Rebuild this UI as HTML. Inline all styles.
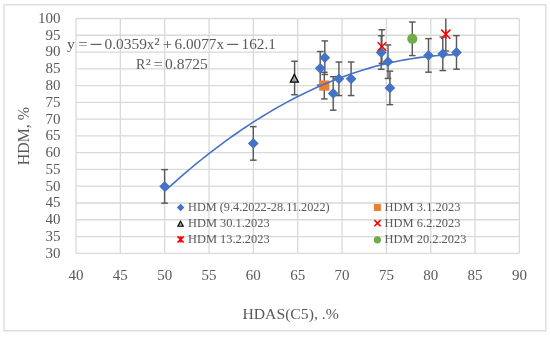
<!DOCTYPE html><html><head><meta charset="utf-8"><style>html,body{margin:0;padding:0;background:#fff;}svg{display:block}text{font-family:'Liberation Serif', 'DejaVu Serif', serif;fill:#595959}</style></head><body>
<svg width="550" height="337" viewBox="0 0 550 337">
<rect x="0" y="0" width="550" height="337" fill="#fff"/>
<rect x="4.0" y="4.8" width="541.9" height="326.0" fill="none" stroke="#D9D9D9" stroke-width="1.3"/>
<g stroke="#D9D9D9" stroke-width="1.3"><line x1="76.00" y1="18.50" x2="76.00" y2="253.30"/><line x1="120.34" y1="18.50" x2="120.34" y2="253.30"/><line x1="164.68" y1="18.50" x2="164.68" y2="253.30"/><line x1="209.02" y1="18.50" x2="209.02" y2="253.30"/><line x1="253.36" y1="18.50" x2="253.36" y2="253.30"/><line x1="297.70" y1="18.50" x2="297.70" y2="253.30"/><line x1="342.04" y1="18.50" x2="342.04" y2="253.30"/><line x1="386.38" y1="18.50" x2="386.38" y2="253.30"/><line x1="430.72" y1="18.50" x2="430.72" y2="253.30"/><line x1="475.06" y1="18.50" x2="475.06" y2="253.30"/><line x1="519.40" y1="18.50" x2="519.40" y2="253.30"/><line x1="76.00" y1="18.50" x2="519.40" y2="18.50"/><line x1="76.00" y1="35.27" x2="519.40" y2="35.27"/><line x1="76.00" y1="52.04" x2="519.40" y2="52.04"/><line x1="76.00" y1="68.81" x2="519.40" y2="68.81"/><line x1="76.00" y1="85.59" x2="519.40" y2="85.59"/><line x1="76.00" y1="102.36" x2="519.40" y2="102.36"/><line x1="76.00" y1="119.13" x2="519.40" y2="119.13"/><line x1="76.00" y1="135.90" x2="519.40" y2="135.90"/><line x1="76.00" y1="152.67" x2="519.40" y2="152.67"/><line x1="76.00" y1="169.44" x2="519.40" y2="169.44"/><line x1="76.00" y1="186.21" x2="519.40" y2="186.21"/><line x1="76.00" y1="202.99" x2="519.40" y2="202.99"/><line x1="76.00" y1="219.76" x2="519.40" y2="219.76"/><line x1="76.00" y1="236.53" x2="519.40" y2="236.53"/><line x1="76.00" y1="253.30" x2="519.40" y2="253.30"/></g>
<text x="60.4" y="22.90" font-size="15" text-anchor="end">100</text>
<text x="60.4" y="39.67" font-size="15" text-anchor="end">95</text>
<text x="60.4" y="56.44" font-size="15" text-anchor="end">90</text>
<text x="60.4" y="73.21" font-size="15" text-anchor="end">85</text>
<text x="60.4" y="89.99" font-size="15" text-anchor="end">80</text>
<text x="60.4" y="106.76" font-size="15" text-anchor="end">75</text>
<text x="60.4" y="123.53" font-size="15" text-anchor="end">70</text>
<text x="60.4" y="140.30" font-size="15" text-anchor="end">65</text>
<text x="60.4" y="157.07" font-size="15" text-anchor="end">60</text>
<text x="60.4" y="173.84" font-size="15" text-anchor="end">55</text>
<text x="60.4" y="190.61" font-size="15" text-anchor="end">50</text>
<text x="60.4" y="207.39" font-size="15" text-anchor="end">45</text>
<text x="60.4" y="224.16" font-size="15" text-anchor="end">40</text>
<text x="60.4" y="240.93" font-size="15" text-anchor="end">35</text>
<text x="60.4" y="257.70" font-size="15" text-anchor="end">30</text>
<text x="76.00" y="279.8" font-size="15" text-anchor="middle">40</text>
<text x="120.34" y="279.8" font-size="15" text-anchor="middle">45</text>
<text x="164.68" y="279.8" font-size="15" text-anchor="middle">50</text>
<text x="209.02" y="279.8" font-size="15" text-anchor="middle">55</text>
<text x="253.36" y="279.8" font-size="15" text-anchor="middle">60</text>
<text x="297.70" y="279.8" font-size="15" text-anchor="middle">65</text>
<text x="342.04" y="279.8" font-size="15" text-anchor="middle">70</text>
<text x="386.38" y="279.8" font-size="15" text-anchor="middle">75</text>
<text x="430.72" y="279.8" font-size="15" text-anchor="middle">80</text>
<text x="475.06" y="279.8" font-size="15" text-anchor="middle">85</text>
<text x="519.40" y="279.8" font-size="15" text-anchor="middle">90</text>
<text x="242.45" y="318.6" font-size="15.3" textLength="96.29" lengthAdjust="spacingAndGlyphs">HDAS(C5), .%</text>
<text transform="translate(28.9,164.8) rotate(-90)" x="-0.46" y="0" font-size="15.8" textLength="58.20" lengthAdjust="spacingAndGlyphs">HDM, %</text>
<g stroke="#595959" stroke-width="1.45" fill="none"><line x1="164.60" y1="169.63" x2="164.60" y2="203.17"/><line x1="161.30" y1="169.63" x2="167.90" y2="169.63"/><line x1="161.30" y1="203.17" x2="167.90" y2="203.17"/><line x1="253.30" y1="126.63" x2="253.30" y2="160.17"/><line x1="250.00" y1="126.63" x2="256.60" y2="126.63"/><line x1="250.00" y1="160.17" x2="256.60" y2="160.17"/><line x1="320.20" y1="51.53" x2="320.20" y2="85.07"/><line x1="316.90" y1="51.53" x2="323.50" y2="51.53"/><line x1="316.90" y1="85.07" x2="323.50" y2="85.07"/><line x1="324.80" y1="40.93" x2="324.80" y2="74.47"/><line x1="321.50" y1="40.93" x2="328.10" y2="40.93"/><line x1="321.50" y1="74.47" x2="328.10" y2="74.47"/><line x1="333.20" y1="76.63" x2="333.20" y2="110.17"/><line x1="329.90" y1="76.63" x2="336.50" y2="76.63"/><line x1="329.90" y1="110.17" x2="336.50" y2="110.17"/><line x1="338.90" y1="62.03" x2="338.90" y2="95.57"/><line x1="335.60" y1="62.03" x2="342.20" y2="62.03"/><line x1="335.60" y1="95.57" x2="342.20" y2="95.57"/><line x1="351.10" y1="62.03" x2="351.10" y2="95.57"/><line x1="347.80" y1="62.03" x2="354.40" y2="62.03"/><line x1="347.80" y1="95.57" x2="354.40" y2="95.57"/><line x1="381.20" y1="35.73" x2="381.20" y2="69.27"/><line x1="377.90" y1="35.73" x2="384.50" y2="35.73"/><line x1="377.90" y1="69.27" x2="384.50" y2="69.27"/><line x1="388.00" y1="44.93" x2="388.00" y2="78.47"/><line x1="384.70" y1="44.93" x2="391.30" y2="44.93"/><line x1="384.70" y1="78.47" x2="391.30" y2="78.47"/><line x1="389.90" y1="71.13" x2="389.90" y2="104.67"/><line x1="386.60" y1="71.13" x2="393.20" y2="71.13"/><line x1="386.60" y1="104.67" x2="393.20" y2="104.67"/><line x1="428.50" y1="38.63" x2="428.50" y2="72.17"/><line x1="425.20" y1="38.63" x2="431.80" y2="38.63"/><line x1="425.20" y1="72.17" x2="431.80" y2="72.17"/><line x1="442.80" y1="37.03" x2="442.80" y2="70.57"/><line x1="439.50" y1="37.03" x2="446.10" y2="37.03"/><line x1="439.50" y1="70.57" x2="446.10" y2="70.57"/><line x1="456.50" y1="35.63" x2="456.50" y2="69.17"/><line x1="453.20" y1="35.63" x2="459.80" y2="35.63"/><line x1="453.20" y1="69.17" x2="459.80" y2="69.17"/><line x1="324.30" y1="72.30" x2="324.30" y2="98.90"/><line x1="321.00" y1="72.30" x2="327.60" y2="72.30"/><line x1="321.00" y1="98.90" x2="327.60" y2="98.90"/><line x1="294.60" y1="61.23" x2="294.60" y2="94.77"/><line x1="291.30" y1="61.23" x2="297.90" y2="61.23"/><line x1="291.30" y1="94.77" x2="297.90" y2="94.77"/><line x1="381.90" y1="29.73" x2="381.90" y2="63.27"/><line x1="378.60" y1="29.73" x2="385.20" y2="29.73"/><line x1="378.60" y1="63.27" x2="385.20" y2="63.27"/><line x1="445.80" y1="18.50" x2="445.80" y2="50.97"/><line x1="442.50" y1="50.97" x2="449.10" y2="50.97"/><line x1="412.30" y1="22.03" x2="412.30" y2="55.57"/><line x1="409.00" y1="22.03" x2="415.60" y2="22.03"/><line x1="409.00" y1="55.57" x2="415.60" y2="55.57"/></g>
<path d="M164.60 181.00L170.00 186.40L164.60 191.80L159.20 186.40Z" fill="#4472C4"/><path d="M253.30 138.00L258.70 143.40L253.30 148.80L247.90 143.40Z" fill="#4472C4"/><path d="M320.20 62.90L325.60 68.30L320.20 73.70L314.80 68.30Z" fill="#4472C4"/><path d="M324.80 52.30L330.20 57.70L324.80 63.10L319.40 57.70Z" fill="#4472C4"/><path d="M333.20 88.00L338.60 93.40L333.20 98.80L327.80 93.40Z" fill="#4472C4"/><path d="M338.90 73.40L344.30 78.80L338.90 84.20L333.50 78.80Z" fill="#4472C4"/><path d="M351.10 73.40L356.50 78.80L351.10 84.20L345.70 78.80Z" fill="#4472C4"/><path d="M381.20 47.10L386.60 52.50L381.20 57.90L375.80 52.50Z" fill="#4472C4"/><path d="M388.00 56.30L393.40 61.70L388.00 67.10L382.60 61.70Z" fill="#4472C4"/><path d="M389.90 82.50L395.30 87.90L389.90 93.30L384.50 87.90Z" fill="#4472C4"/><path d="M428.50 50.00L433.90 55.40L428.50 60.80L423.10 55.40Z" fill="#4472C4"/><path d="M442.80 48.40L448.20 53.80L442.80 59.20L437.40 53.80Z" fill="#4472C4"/><path d="M456.50 47.00L461.90 52.40L456.50 57.80L451.10 52.40Z" fill="#4472C4"/>
<rect x="319.20" y="80.50" width="10.20" height="10.20" fill="#ED7D31"/>
<path d="M294.35 73.05L289.30 82.85L299.40 82.85Z" fill="#000"/><path d="M294.35 75.78L291.35 81.60L297.35 81.60Z" fill="#A5A5A5"/>
<path d="M377.60 42.20L386.20 50.80M386.20 42.20L377.60 50.80" stroke="#FF0000" stroke-width="1.5" fill="none"/>
<path d="M441.20 29.60L450.40 38.80M450.40 29.60L441.20 38.80M445.80 29.60L445.80 38.80" stroke="#FF0000" stroke-width="1.5" fill="none"/>
<circle cx="412.30" cy="38.80" r="5.10" fill="#70AD47"/>
<polyline points="164.68,191.13 168.33,187.81 171.99,184.53 175.64,181.29 179.30,178.09 182.95,174.93 186.61,171.81 190.26,168.74 193.92,165.70 197.57,162.71 201.23,159.75 204.88,156.84 208.54,153.97 212.19,151.14 215.85,148.35 219.50,145.60 223.16,142.89 226.81,140.22 230.47,137.60 234.12,135.01 237.77,132.47 241.43,129.96 245.08,127.50 248.74,125.08 252.39,122.70 256.05,120.36 259.70,118.06 263.36,115.80 267.01,113.58 270.67,111.41 274.32,109.27 277.98,107.18 281.63,105.12 285.29,103.11 288.94,101.14 292.60,99.21 296.25,97.32 299.90,95.47 303.56,93.66 307.21,91.89 310.87,90.17 314.52,88.48 318.18,86.83 321.83,85.23 325.49,83.67 329.14,82.15 332.80,80.67 336.45,79.23 340.11,77.83 343.76,76.47 347.42,75.15 351.07,73.87 354.73,72.64 358.38,71.44 362.04,70.29 365.69,69.18 369.34,68.11 373.00,67.07 376.65,66.08 380.31,65.14 383.96,64.23 387.62,63.36 391.27,62.53 394.93,61.75 398.58,61.00 402.24,60.30 405.89,59.64 409.55,59.01 413.20,58.43 416.86,57.89 420.51,57.39 424.17,56.94 427.82,56.52 431.47,56.14 435.13,55.81 438.78,55.51 442.44,55.26 446.09,55.04 449.75,54.87 453.40,54.74 457.06,54.65" fill="none" stroke="#4472C4" stroke-width="1.6" stroke-linejoin="round"/>
<text x="67.11" y="49.00" font-size="15.00" textLength="7.85" lengthAdjust="spacingAndGlyphs">y</text>
<text x="78.27" y="49.00" font-size="15.00" textLength="9.45" lengthAdjust="spacingAndGlyphs">=</text>
<text x="89.53" y="52.10" font-size="23.00" textLength="13.21" lengthAdjust="spacingAndGlyphs">−</text>
<text x="104.51" y="49.00" font-size="15.00" textLength="42.52" lengthAdjust="spacingAndGlyphs">0.0359</text>
<text x="146.98" y="49.00" font-size="15.00" textLength="6.99" lengthAdjust="spacingAndGlyphs">x</text>
<text x="154.20" y="48.70" font-size="16.00" textLength="5.41" lengthAdjust="spacingAndGlyphs">²</text>
<text x="162.68" y="49.00" font-size="15.00" textLength="9.33" lengthAdjust="spacingAndGlyphs">+</text>
<text x="174.55" y="49.00" font-size="15.00" textLength="41.89" lengthAdjust="spacingAndGlyphs">6.0077</text>
<text x="216.67" y="49.00" font-size="15.00" textLength="7.20" lengthAdjust="spacingAndGlyphs">x</text>
<text x="226.12" y="52.10" font-size="23.00" textLength="13.33" lengthAdjust="spacingAndGlyphs">−</text>
<text x="241.56" y="49.00" font-size="15.00" textLength="34.25" lengthAdjust="spacingAndGlyphs">162.1</text>
<text x="136.10" y="69.20" font-size="15.30" textLength="9.32" lengthAdjust="spacingAndGlyphs">R</text>
<text x="145.84" y="68.60" font-size="15.00" textLength="5.04" lengthAdjust="spacingAndGlyphs">²</text>
<text x="153.48" y="69.20" font-size="15.00" textLength="9.33" lengthAdjust="spacingAndGlyphs">=</text>
<text x="165.01" y="69.20" font-size="15.00" textLength="42.70" lengthAdjust="spacingAndGlyphs">0.8725</text>
<path d="M180.60 203.70L184.40 207.50L180.60 211.30L176.80 207.50Z" fill="#4472C4"/>
<text x="188.05" y="210.80" font-size="12.30" textLength="141.59" lengthAdjust="spacingAndGlyphs">HDM (9.4.2022-28.11.2022)</text>
<path d="M180.55 219.90L176.90 226.80L184.20 226.80Z" fill="#000"/><path d="M180.55 222.36L178.81 225.65L182.29 225.65Z" fill="#A5A5A5"/>
<text x="188.04" y="226.90" font-size="12.30" textLength="81.64" lengthAdjust="spacingAndGlyphs">HDM 30.1.2023</text>
<path d="M177.50 236.30L183.70 242.50M183.70 236.30L177.50 242.50M180.60 236.30L180.60 242.50" stroke="#FF0000" stroke-width="1.7" fill="none"/>
<text x="188.04" y="242.70" font-size="12.30" textLength="81.64" lengthAdjust="spacingAndGlyphs">HDM 13.2.2023</text>
<rect x="373.90" y="204.00" width="7.00" height="7.00" fill="#ED7D31"/>
<text x="384.64" y="210.80" font-size="12.30" textLength="75.75" lengthAdjust="spacingAndGlyphs">HDM 3.1.2023</text>
<path d="M374.40 220.10L380.60 226.30M380.60 220.10L374.40 226.30" stroke="#FF0000" stroke-width="1.6" fill="none"/>
<text x="384.64" y="226.90" font-size="12.30" textLength="75.75" lengthAdjust="spacingAndGlyphs">HDM 6.2.2023</text>
<circle cx="377.40" cy="239.80" r="3.60" fill="#70AD47"/>
<text x="384.64" y="242.70" font-size="12.30" textLength="81.74" lengthAdjust="spacingAndGlyphs">HDM 20.2.2023</text>
</svg></body></html>
